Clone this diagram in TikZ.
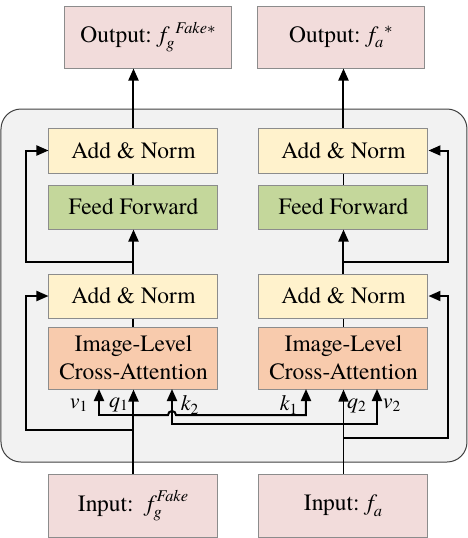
\documentclass[tikz,border=0pt]{standalone}
\usepackage{amsmath}
\usepackage{fontspec}
\setmainfont{texgyretermes}[Extension=.otf, UprightFont=*-regular, ItalicFont=*-italic, BoldFont=*-bold, BoldItalicFont=*-bolditalic]
\usetikzlibrary{arrows.meta}
\definecolor{pinkbox}{HTML}{F2DCDB}
\definecolor{yellowbox}{HTML}{FFF2CC}
\definecolor{greenbox}{HTML}{C4D79B}
\definecolor{orangebox}{HTML}{F8CBAD}
\definecolor{graybg}{HTML}{F2F2F2}
\definecolor{boxline}{HTML}{8C8C8C}
\tikzset{
  blk/.style={draw=boxline, line width=0.5pt, inner sep=0pt, minimum width=84.5pt, align=center,
    font=\fontsize{11.7}{14}\selectfont},
  conn/.style={line width=1pt, black},
  thinconn/.style={line width=0.6pt, black},
  arr/.style={conn, -{Triangle[length=6pt,width=5pt]}},
  lbl/.style={font=\fontsize{11}{13}\selectfont\itshape, inner sep=0pt},
}
\newcommand{\itx}[1]{\textit{#1}}
\begin{document}
\begin{tikzpicture}[x=0.5pt,y=-0.5pt]
\useasboundingbox (0,0) rectangle (468,538);
% big container
\draw[fill=graybg, draw=black!75, line width=0.5pt, rounded corners=10pt] (1,109) rectangle (467,462);
% output boxes
\node[blk, fill=pinkbox, minimum width=83.5pt, minimum height=31pt] (out1) at (148.5,37) {Output: $\itx{f}_{\itx{g}}{}^{\itx{Fake}*}$};
\node[blk, fill=pinkbox, minimum width=83.5pt, minimum height=31pt] (out2) at (341.5,37) {Output: $\itx{f}_{\itx{a}}{}^{*}$};
% left column
\node[blk, fill=yellowbox, minimum height=22.5pt] (an1) at (133.5,150.5) {Add \& Norm};
\node[blk, fill=greenbox, minimum height=22pt] (ff1) at (133.5,207) {Feed Forward};
\node[blk, fill=yellowbox, minimum height=22pt] (an2) at (133.5,296) {Add \& Norm};
\node[blk, fill=orangebox, minimum height=31pt] (ca1) at (133.5,358) {Image-Level\\Cross-Attention};
% right column
\node[blk, fill=yellowbox, minimum height=22.5pt] (bn1) at (343.5,150.5) {Add \& Norm};
\node[blk, fill=greenbox, minimum height=22pt] (gg1) at (343.5,207) {Feed Forward};
\node[blk, fill=yellowbox, minimum height=22pt] (bn2) at (343.5,296) {Add \& Norm};
\node[blk, fill=orangebox, minimum height=31pt] (cb1) at (343.5,358) {Image-Level\\Cross-Attention};
% inputs
\node[blk, fill=pinkbox, minimum height=31.5pt] (in1) at (133.5,505.5) {Input: \ $\itx{f}_{\itx{g}}^{\,\itx{Fake}}$};
\node[blk, fill=pinkbox, minimum height=31.5pt] (in2) at (343.5,505.5) {Input: $\itx{f}_{\itx{a}}$};

% named coordinates
\coordinate (lA) at (133.5,262);
\coordinate (lAx) at (26,262);
\coordinate (lB) at (133.5,430);
\coordinate (lBx) at (26,430);
\coordinate (rA) at (343.5,262);
\coordinate (rAx) at (448,262);
\coordinate (rB) at (343.5,438);
\coordinate (rBx) at (448,438);
\coordinate (jL) at (133.5,415);
\coordinate (jR) at (343.5,424);
\coordinate (v1b) at (99,415);
\coordinate (v1t) at (99,389);
\coordinate (k1b) at (306,415);
\coordinate (k1t) at (306,389);
\coordinate (k2b) at (172,424);
\coordinate (k2t) at (172,389);
\coordinate (v2b) at (377,424);
\coordinate (v2t) at (377,389);
\coordinate (hopA) at (168,415);

% outputs
\draw[arr] (an1.north) -- (an1.north |- out1.south);
\draw[arr] (bn1.north) -- (bn1.north |- out2.south);
% left column internal
\draw[conn] (an1.south) -- (ff1.north);
\draw[arr] (an2.north) -- (ff1.south);
\draw[conn] (an2.south) -- (ca1.north);
\draw[arr] (lA) -- (lAx) -- (lAx |- an1.west) -- (an1.west);
\draw[arr] (lB) -- (lBx) -- (lBx |- an2.west) -- (an2.west);
% right column internal
\draw[thinconn] (bn1.south) -- (gg1.north);
\draw[arr] (bn2.north) -- (gg1.south);
\draw[thinconn] (bn2.south) -- (cb1.north);
\draw[arr] (rA) -- (rAx) -- (rAx |- bn1.east) -- (bn1.east);
\draw[arr] (rB) -- (rBx) -- (rBx |- bn2.east) -- (bn2.east);
% inputs
\draw[arr] (in1.north) -- (ca1.south);
\draw[arr, line width=0.6pt] (in2.north) -- (cb1.south);
% branches
\draw[arr] (jL) -- (v1b) -- (v1t);
\draw[arr] (jR) -- (k2b) -- (k2t);
\draw[arr] (jR) -- (v2b) -- (v2t);
\draw[arr] (jL) -- (hopA) arc[start angle=180, end angle=360, radius=4] -- (k1b) -- (k1t);

% labels
\node[lbl] (lv1) at (79,405) {v\textsubscript{\upshape 1}};
\node[lbl] (lq1) at (119,405) {q\textsubscript{\upshape 1}};
\node[lbl] (lk2) at (190,405) {k\textsubscript{\upshape 2}};
\node[lbl] (lk1) at (289,405) {k\textsubscript{\upshape 1}};
\node[lbl] (lq2) at (357,406) {q\textsubscript{\upshape 2}};
\node[lbl] (lv2) at (392,405) {v\textsubscript{\upshape 2}};
\end{tikzpicture}
\end{document}
